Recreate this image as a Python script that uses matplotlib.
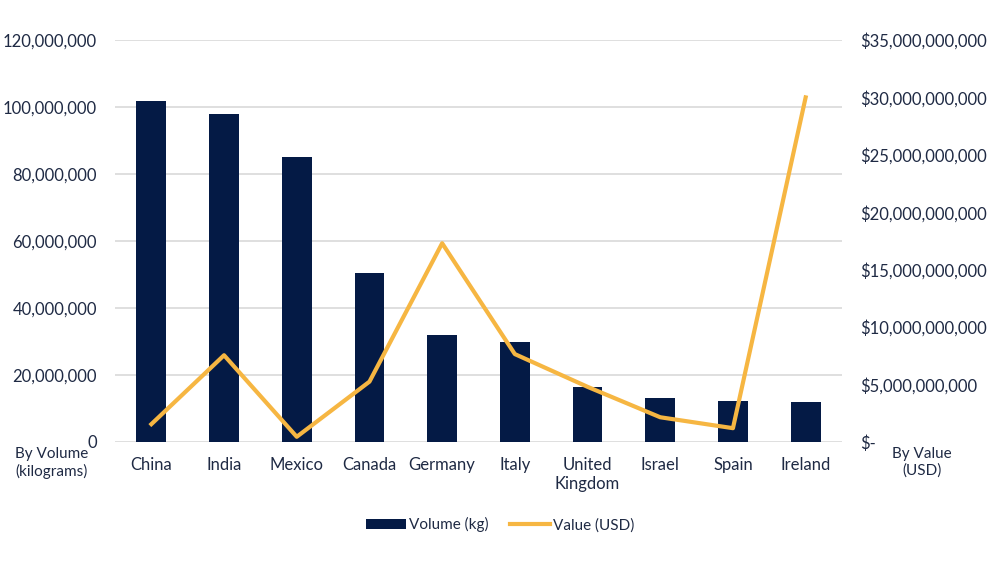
import numpy as np
import matplotlib.pyplot as plt
from matplotlib.ticker import FuncFormatter

plt.rcParams['font.family'] = ['Lato', 'DejaVu Sans']

# data
countries = ['China', 'India', 'Mexico', 'Canada', 'Germany', 'Italy',
             'United\nKingdom', 'Israel', 'Spain', 'Ireland']
volume_kg = [101.8e6, 97.8e6, 85.2e6, 50.5e6, 31.8e6, 29.9e6,
             16.5e6, 13.2e6, 12.3e6, 12.0e6]
value_usd = [1.55e9, 7.55e9, 0.45e9, 5.25e9, 17.3e9, 7.65e9,
             4.8e9, 2.15e9, 1.2e9, 30.0e9]

navy = '#041a45'
orange = '#f6b642'
txt = '#1f2a44'

fig = plt.figure(figsize=(10, 5.63), dpi=100)
ax = fig.add_axes([0.115, 0.215, 0.727, 0.714])
ax2 = ax.twinx()

x = np.arange(len(countries))
ax.bar(x, volume_kg, width=0.41, color=navy, label='Volume (kg)', zorder=3)
ax2.plot(x, value_usd, color=orange, lw=3, label='Value (USD)', zorder=4)

ax.set_xlim(-0.5, len(countries) - 0.5)
ax.set_ylim(0, 120e6)
ax.set_yticks(np.arange(0, 120e6 + 1, 20e6))
ax2.set_ylim(0, 35e9)
ax2.set_yticks(np.arange(0, 35e9 + 1, 5e9))

ax.yaxis.set_major_formatter(FuncFormatter(lambda v, p: '0' if v == 0 else f'{v:,.0f}'))
ax2.yaxis.set_major_formatter(FuncFormatter(lambda v, p: '$-' if v == 0 else f'${v:,.0f}'))

ax.grid(axis='y', color='#d9d9d9', lw=1.2, zorder=0)
ax.set_axisbelow(True)
for a in (ax, ax2):
    for s in a.spines.values():
        s.set_visible(False)
    a.tick_params(length=0, labelsize=12, colors=txt)
ax.tick_params(axis='y', pad=13)
ax2.tick_params(axis='y', pad=13)
ax.tick_params(axis='x', pad=11)
ax.set_xticks(x)
ax.set_xticklabels(countries)

fig.text(0.052, 0.178, 'By Volume\n(kilograms)', ha='center', va='center',
         fontsize=11, color=txt, linespacing=1.2)
fig.text(0.922, 0.178, 'By Value\n(USD)', ha='center', va='center',
         fontsize=11, color=txt, linespacing=1.2)

h1, l1 = ax.get_legend_handles_labels()
h2, l2 = ax2.get_legend_handles_labels()
fig.legend(h1 + h2, l1 + l2, loc='center', bbox_to_anchor=(0.5, 0.068), ncol=2,
           frameon=False, fontsize=11, labelcolor=txt, handlelength=2.6,
           columnspacing=1.4, handletextpad=0.2)

fig.savefig('out.png', dpi=100)
